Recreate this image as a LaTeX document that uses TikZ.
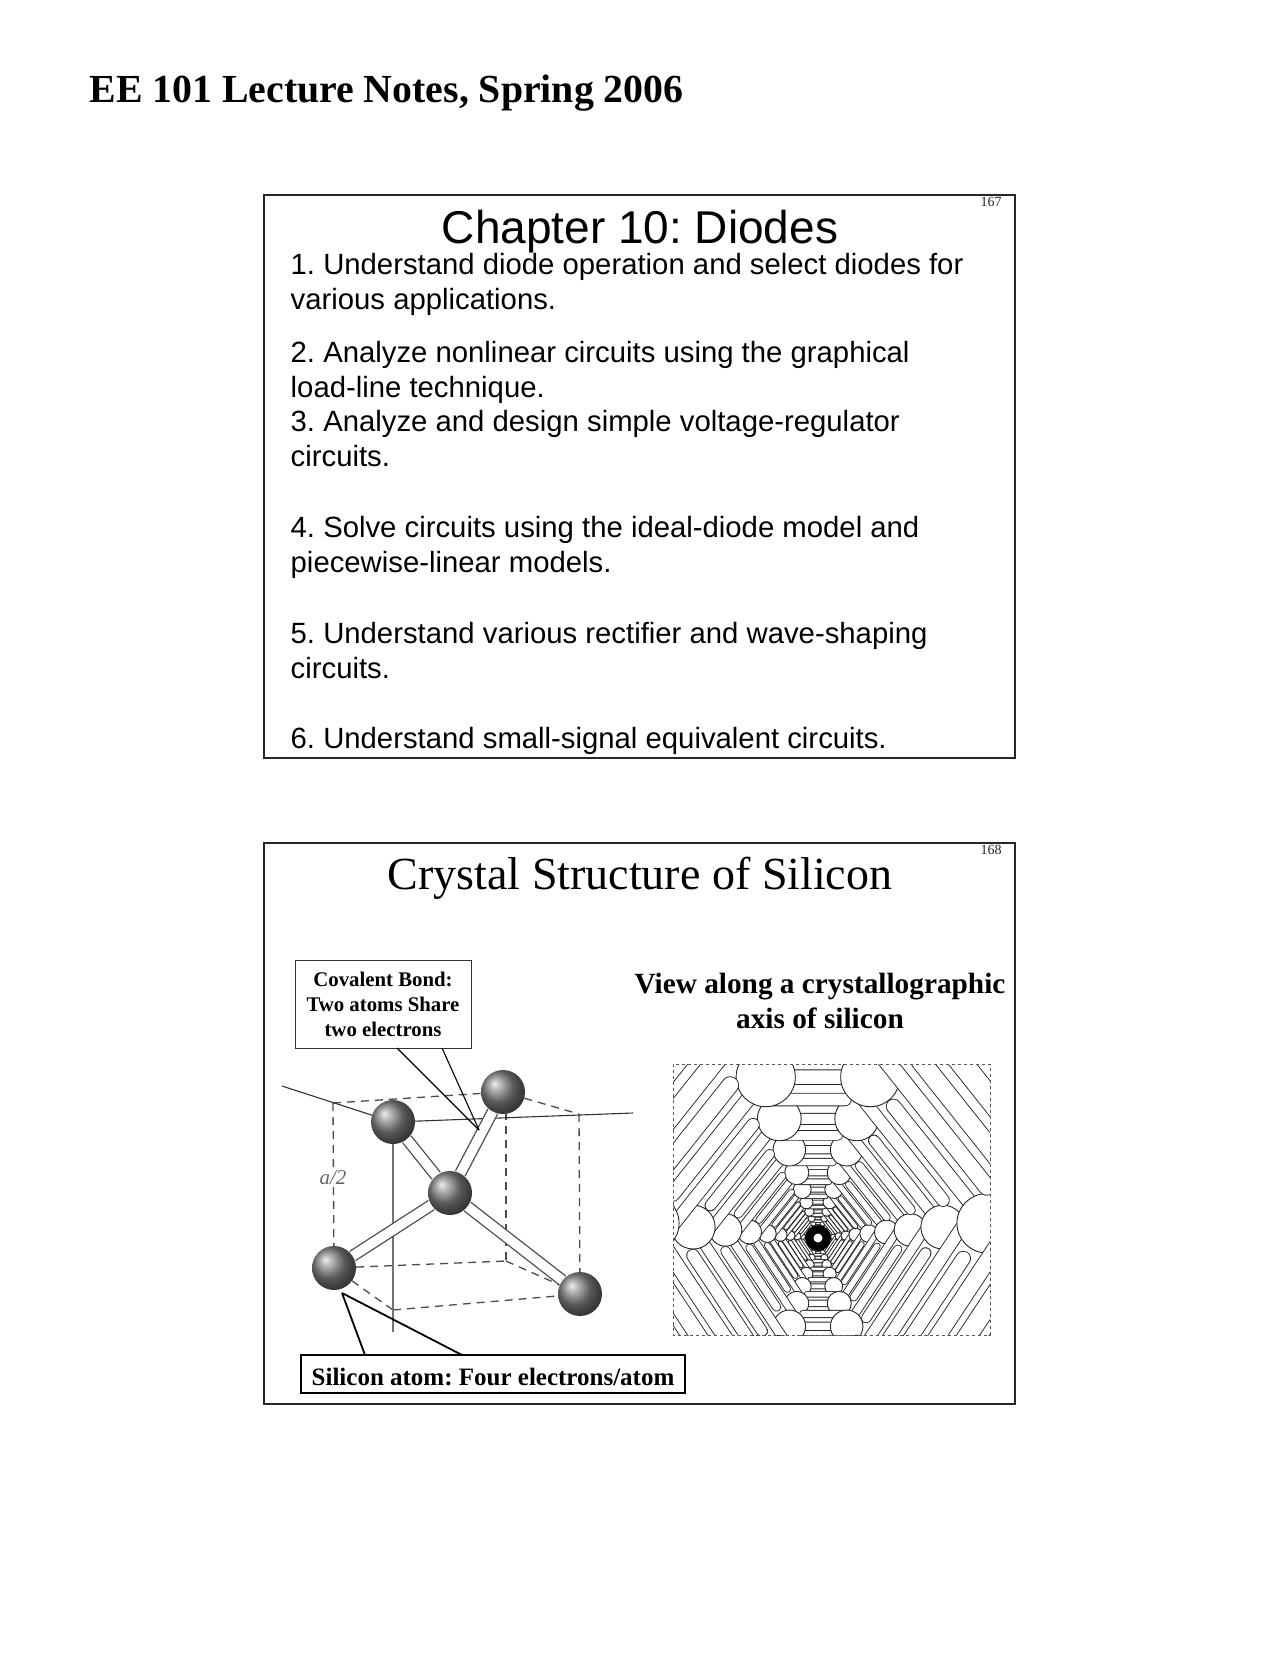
\documentclass[tikz,border=0pt]{standalone}
\usepackage{fontspec}
\setmainfont{Liberation Serif}
\setsansfont{Liberation Sans}
\usetikzlibrary{positioning,calc}
\frenchspacing
\tikzset{
	slidebox/.style={draw=black!85,line width=2pt},
	goaltext/.style={anchor=west,align=left,inner sep=0pt,font=\sffamily\fontsize{29.3}{35}\selectfont},
	pagenum/.style={inner sep=0pt,text=black!85,font=\fontsize{14}{14}\selectfont},
	atom/.style={circle,inner sep=0pt,minimum size=44pt,shading=ball,ball color=black!50},
	bond/.style={draw=black!70,line width=1.3pt,double=white,double distance=9.5pt},
	cubeline/.style={draw=black!70,line width=1.3pt,dashed,dash pattern=on 8pt off 6pt},
	callout/.style={draw=black,line width=1.1pt},
	rod/.style={draw=black!85,line width=.9pt,double=white,line cap=round},
}
\begin{document}
\begin{tikzpicture}[x=1pt,y=-1pt]
	\useasboundingbox[fill=white] (0,0) rectangle (1280,1656);
	\node [inner sep=0pt,font=\bfseries\fontsize{39.8}{40}\selectfont] (header) at (386.5,93) {EE 101 Lecture Notes, Spring 2006};

	% first slide
	\node [slidebox,minimum width=751pt,minimum height=563pt,inner sep=0pt] (slidea) at (639.5,476.5) {};
	\node [pagenum] (numa) at (991,202) {167};
	\node [inner sep=0pt,font=\sffamily\fontsize{46}{46}\selectfont] (titlea) at (640,232) {Chapter 10: Diodes};
	\node [goaltext] (goala) at (290.5,284) {1. Understand diode operation and select diodes for\\various applications.};
	\node [goaltext] (goalb) at (290.5,372) {2. Analyze nonlinear circuits using the graphical\\load-line technique.};
	\node [goaltext] (goalc) at (290.5,439) {3. Analyze and design simple voltage-regulator\\circuits.};
	\node [goaltext] (goald) at (290.5,547) {4. Solve circuits using the ideal-diode model and\\piecewise-linear models.};
	\node [goaltext] (goale) at (290.5,651) {5. Understand various rectifier and wave-shaping\\circuits.};
	\node [goaltext] (goalf) at (290.5,741) {6. Understand small-signal equivalent circuits.};

	% second slide
	\node [slidebox,minimum width=751pt,minimum height=561pt,inner sep=0pt] (slideb) at (639.5,1123.5) {};
	\node [pagenum] (numb) at (991,850) {168};
	\node [inner sep=0pt,font=\fontsize{46}{46}\selectfont] (titleb) at (640,878) {Crystal Structure of Silicon};
	\node [inner sep=0pt,align=center,font=\bfseries\fontsize{29.3}{35}\selectfont] (viewtext) at (820,1001) {View along a crystallographic\\axis of silicon};

	% silicon cell
	\coordinate (cornera) at (333,1103);
	\coordinate (cornerb) at (579,1114);
	\coordinate (cornerc) at (506,1112);
	\coordinate (cornerd) at (506,1261);
	\coordinate (cornere) at (393,1310);
	\coordinate (rayleft) at (282,1086);
	\coordinate (rayright) at (633,1113);
	\coordinate (raydown) at (393,1332);
	\node [atom] (siback) at (503,1092) {};
	\node [atom] (sifront) at (393,1122) {};
	\node [atom] (sicentre) at (450,1193) {};
	\node [atom] (sileft) at (334,1268) {};
	\node [atom] (siright) at (580,1294) {};
	\draw [cubeline] (cornera) -- (siback);
	\draw [cubeline] (siback) -- (cornerb);
	\draw [cubeline] (cornera) -- (sileft);
	\draw [cubeline] (cornerb) -- (siright);
	\draw [cubeline] (cornerc) -- (cornerd);
	\draw [cubeline] (sileft) -- (cornerd);
	\draw [cubeline] (cornerd) -- (siright);
	\draw [cubeline] (sileft) -- (cornere);
	\draw [cubeline] (cornere) -- (siright);
	\draw [draw=black!80,line width=1.1pt] (rayleft) -- (sifront);
	\draw [draw=black!80,line width=1.1pt] (sifront) -- (rayright);
	\draw [draw=black!55,line width=1.1pt] (sifront) -- (raydown);
	\draw [bond] (siback) -- (sicentre);
	\draw [bond] (sifront) -- (sicentre);
	\draw [bond] (sileft) -- (sicentre);
	\draw [bond] (siright) -- (sicentre);
	\node [inner sep=2pt,fill=white,text=black!60,font=\itshape\fontsize{21}{21}\selectfont] (latlabel) at (333,1178) {a/2};

	% callouts
	\node [draw=black!80,line width=1pt,fill=white,minimum width=176pt,minimum height=88pt,inner sep=0pt,align=center,font=\bfseries\fontsize{20.8}{25}\selectfont] (covbox) at (383,1004) {Covalent Bond:\\Two atoms Share\\two electrons};
	\coordinate (covtip) at (479,1130);
	\coordinate (covfoota) at (397,1048);
	\coordinate (covfootb) at (442,1048);
	\draw [callout] (covfoota) -- (covtip);
	\draw [callout] (covfootb) -- (covtip);
	\node [draw=black,line width=2pt,fill=white,minimum width=384pt,minimum height=38pt,inner sep=0pt,text height=23pt,text depth=0pt,font=\bfseries\fontsize{25}{25}\selectfont] (sibox) at (493,1374) {Silicon atom: Four electrons/atom};
	\coordinate (sitip) at (342,1293);
	\coordinate (sifoota) at (365,1355);
	\coordinate (sifootb) at (462,1355);
	\draw [callout,line width=1.8pt] (sifoota) -- (sitip);
	\draw [callout,line width=1.8pt] (sifootb) -- (sitip);

	% view down the axis
	\coordinate (viewnw) at (673,1064);
	\coordinate (viewse) at (990,1335);
	\begin{scope}
		\clip (viewnw) rectangle (viewse);
		\begin{scope}[shift={(818,1238)}]
			\foreach \k in {0,...,24} {
				\pgfmathsetmacro{\rad}{8.4*1.162^\k}
				\pgfmathsetmacro{\wid}{.08*\rad}
				\pgfmathsetmacro{\ball}{.175*\rad}
				\pgfmathsetmacro{\lnw}{min(.9,.15+.08*\rad)}
				\foreach \a/\b in {-5/72,72/108,108/185,185/252,252/288,288/355} {
					\ifodd\k
						\draw [rod,line width=\lnw pt,double distance=\wid pt] (\a:\rad) -- ($(\a:\rad)!.8!(\b:\rad)$);
					\else
						\draw [rod,line width=\lnw pt,double distance=\wid pt] (\b:\rad) -- ($(\b:\rad)!.8!(\a:\rad)$);
					\fi
				}
				\ifodd\k\else
					\foreach \a in {-5,72,108,185,252,288} {
						\draw [draw=black!85,line width=\lnw pt,fill=white] (\a:\rad) circle (\ball);
					}
				\fi
			}
			\fill [black] (0,0) circle (13);
			\fill [white] (0,0) circle (4.5);
		\end{scope}
	\end{scope}
	\draw [draw=black!65,line width=1pt,dashed] (viewnw) rectangle (viewse);
\end{tikzpicture}
\end{document}
